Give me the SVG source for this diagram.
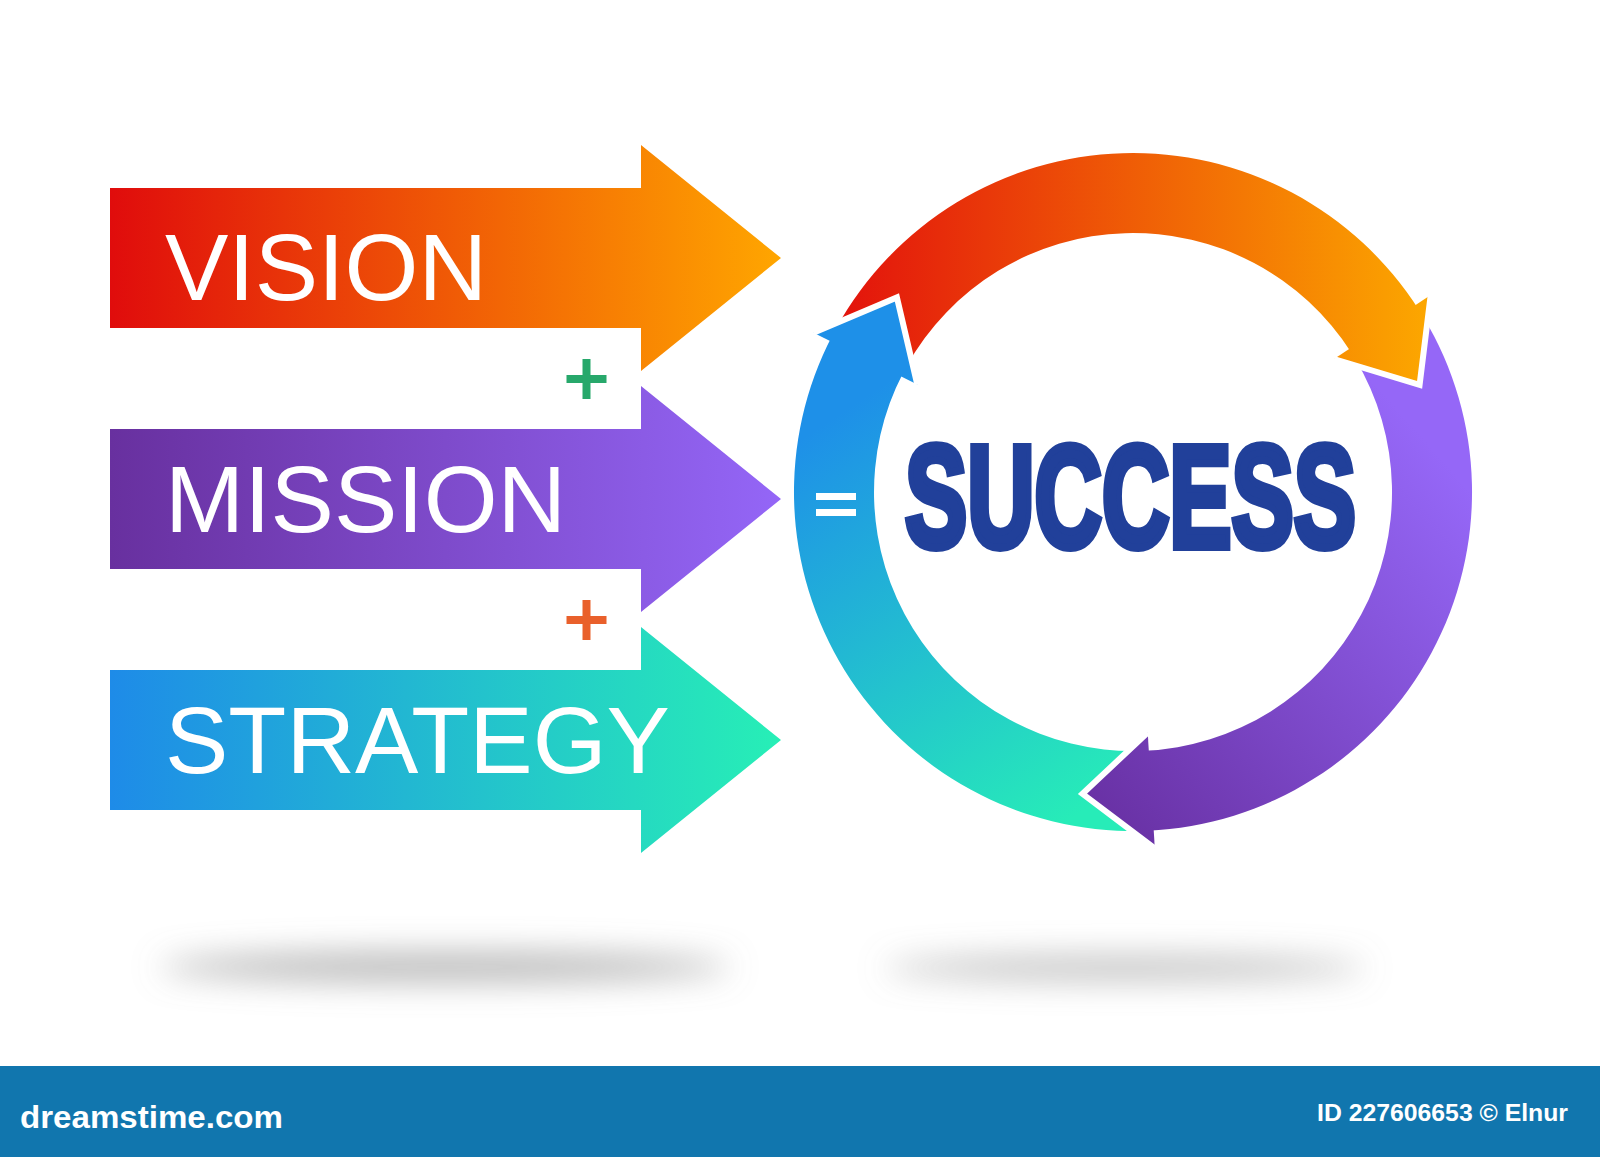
<svg xmlns="http://www.w3.org/2000/svg" width="1600" height="1157" viewBox="0 0 1600 1157">
  <style>
    .lbl { font-family: "Liberation Sans", Arial, sans-serif; font-size: 95px; fill: #ffffff; }
    .plusbar { stroke-width: 8; stroke-linecap: butt; }
    .gap { fill: none; stroke: #ffffff; stroke-width: 6; stroke-linejoin: miter; stroke-miterlimit: 10; }
    .foot { font-family: "Liberation Sans", Arial, sans-serif; fill: #ffffff; font-weight: bold; }
  </style>
  <defs>
    <linearGradient id="gVision" gradientUnits="userSpaceOnUse" x1="110" y1="0" x2="781" y2="0">
      <stop offset="0" stop-color="#e00c0c"/>
      <stop offset="1" stop-color="#ffa600"/>
    </linearGradient>
    <linearGradient id="gMission" gradientUnits="userSpaceOnUse" x1="110" y1="0" x2="781" y2="0">
      <stop offset="0" stop-color="#68309f"/>
      <stop offset="1" stop-color="#9466f7"/>
    </linearGradient>
    <linearGradient id="gStrategy" gradientUnits="userSpaceOnUse" x1="110" y1="0" x2="781" y2="0">
      <stop offset="0" stop-color="#1e8be8"/>
      <stop offset="1" stop-color="#27efb6"/>
    </linearGradient>
    <linearGradient id="gRingRed" gradientUnits="userSpaceOnUse" x1="845" y1="0" x2="1432" y2="0">
      <stop offset="0" stop-color="#e3140c"/>
      <stop offset="1" stop-color="#fca800"/>
    </linearGradient>
    <linearGradient id="gRingPurple" gradientUnits="userSpaceOnUse" x1="1460" y1="480" x2="1085" y2="810">
      <stop offset="0" stop-color="#9567f7"/>
      <stop offset="1" stop-color="#6830a3"/>
    </linearGradient>
    <linearGradient id="gRingBlue" gradientUnits="userSpaceOnUse" x1="830" y1="420" x2="1085" y2="810">
      <stop offset="0" stop-color="#1e90e8"/>
      <stop offset="1" stop-color="#27ecb8"/>
    </linearGradient>
    <filter id="blur" x="-50%" y="-300%" width="200%" height="700%">
      <feGaussianBlur stdDeviation="16"/>
    </filter>
  </defs>

  <rect x="0" y="0" width="1600" height="1157" fill="#ffffff"/>

  <!-- shadows -->
  <g id="shadows" filter="url(#blur)">
    <ellipse cx="445" cy="967" rx="285" ry="14" fill="#8c8c8c" opacity="0.65"/>
    <ellipse cx="1125" cy="968" rx="240" ry="11" fill="#8c8c8c" opacity="0.6"/>
  </g>

  <!-- left arrows -->
  <g id="vision">
    <path d="M110,188 H641 V145 L781,258 L641,371 V328 H110 Z" fill="url(#gVision)"/>
    <text class="lbl" x="165" y="300">VISION</text>
  </g>
  <g id="plus1">
    <line class="plusbar" x1="566.5" y1="379" x2="606.5" y2="379" stroke="#27a86b"/>
    <line class="plusbar" x1="586.5" y1="359" x2="586.5" y2="399" stroke="#27a86b"/>
  </g>
  <g id="mission">
    <path d="M110,429 H641 V386 L781,499 L641,612 V569 H110 Z" fill="url(#gMission)"/>
    <text class="lbl" x="165" y="532">MISSION</text>
  </g>
  <g id="plus2">
    <line class="plusbar" x1="566.5" y1="620" x2="606.5" y2="620" stroke="#e9602b"/>
    <line class="plusbar" x1="586.5" y1="600" x2="586.5" y2="640" stroke="#e9602b"/>
  </g>
  <g id="strategy">
    <path d="M110,670 H641 V627 L781,740 L641,853 V810 H110 Z" fill="url(#gStrategy)"/>
    <text class="lbl" x="165" y="773">STRATEGY</text>
  </g>

  <!-- cycle ring arrows -->
  <g id="connectors">
    <path d="M836.5,327.65 A339,339 0 0 1 1418.9,309.9 L1351.4,352.8 A259,259 0 0 0 906.5,366.4 Z" fill="url(#gRingRed)"/>
    <path d="M1423.6,317.4 A339,339 0 0 1 1147.8,830.7 L1144.3,750.8 A259,259 0 0 0 1355.0,358.6 Z" fill="url(#gRingPurple)"/>
    <path d="M1138.9,831.0 A339,339 0 0 1 832.3,335.5 L903.3,372.4 A259,259 0 0 0 1137.5,751.0 Z" fill="url(#gRingBlue)"/>

    <polygon points="1430.7,295.0 1419.6,384.8 1334.0,359.0" fill="url(#gRingRed)"/>
    <polyline class="gap" points="1334.0,359.0 1419.6,384.8 1430.7,295.0"/>

    <polygon points="1154.8,848.3 1082.5,793.8 1147.7,732.5" fill="url(#gRingPurple)"/>
    <polyline class="gap" points="1147.7,732.5 1082.5,793.8 1154.8,848.3"/>

    <polygon points="813.5,332.7 896.9,297.4 917.3,384.5" fill="url(#gRingBlue)"/>
    <polyline class="gap" points="917.3,384.5 896.9,297.4 813.5,332.7"/>
  </g>

  <g id="equals">
    <rect x="816" y="493" width="40" height="7" fill="#ffffff"/>
    <rect x="816" y="509" width="40" height="7" fill="#ffffff"/>
  </g>

  <g id="success">
    <text x="905" y="547" textLength="451" lengthAdjust="spacingAndGlyphs" font-family="'Liberation Sans Narrow', 'Liberation Sans', Arial, sans-serif" font-weight="bold" font-size="144" fill="#21409a" stroke="#21409a" stroke-width="8" stroke-linejoin="miter">SUCCESS</text>
  </g>

  <!-- footer -->
  <g id="footer">
    <rect x="0" y="1066" width="1600" height="91" fill="#1176ae"/>
    <text class="foot" x="20" y="1128" font-size="31" textLength="263" lengthAdjust="spacingAndGlyphs">dreamstime.com</text>
    <text class="foot" x="1317" y="1121" font-size="24" textLength="251" lengthAdjust="spacingAndGlyphs">ID 227606653 © Elnur</text>
  </g>
</svg>
